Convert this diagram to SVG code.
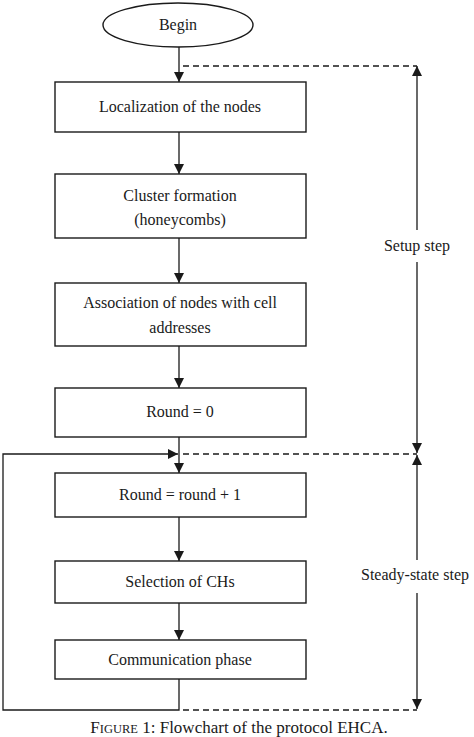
<svg xmlns="http://www.w3.org/2000/svg" width="474" height="737" viewBox="0 0 474 737">
<defs>
<marker id="ah" viewBox="0 0 10 10" refX="10" refY="5" markerWidth="10" markerHeight="10" markerUnits="userSpaceOnUse" orient="auto-start-reverse">
<path d="M0,0 L10,5 L0,10 Z" fill="#1a1a1a"/>
</marker>
</defs>
<style>
.box{fill:#fff;stroke:#1a1a1a;stroke-width:1.4}
.ln{fill:none;stroke:#1a1a1a;stroke-width:1.3}
.ds{fill:none;stroke:#1a1a1a;stroke-width:1.3;stroke-dasharray:6 4}
.t{font-family:"Liberation Serif","Times New Roman",serif;font-size:16px;fill:#1a1a1a;text-anchor:middle}
</style>
<rect width="474" height="737" fill="#fff"/>
<g id="begin"><ellipse class="box" cx="178" cy="25" rx="75" ry="22"/><text class="t" x="178" y="30">Begin</text></g>
<g id="n1"><rect class="box" x="55" y="82" width="251" height="50"/><text class="t" x="180" y="112">Localization of the nodes</text></g>
<g id="n2"><rect class="box" x="55" y="174" width="251" height="64"/><text class="t" x="180" y="201">Cluster formation</text><text class="t" x="180" y="225">(honeycombs)</text></g>
<g id="n3"><rect class="box" x="55" y="283" width="251" height="63"/><text class="t" x="180" y="308">Association of nodes with cell</text><text class="t" x="180" y="333">addresses</text></g>
<g id="n4"><rect class="box" x="55" y="388" width="251" height="49"/><text class="t" x="180" y="417">Round = 0</text></g>
<g id="n5"><rect class="box" x="55" y="473" width="251" height="44"/><text class="t" x="180" y="500">Round = round + 1</text></g>
<g id="n6"><rect class="box" x="55" y="561" width="251" height="42"/><text class="t" x="180" y="587">Selection of CHs</text></g>
<g id="n7"><rect class="box" x="55" y="640" width="251" height="39"/><text class="t" x="180" y="665">Communication phase</text></g>
<g id="connectors">
<line class="ln" x1="179" y1="47" x2="179" y2="82" marker-end="url(#ah)"/>
<line class="ln" x1="179" y1="132" x2="179" y2="174" marker-end="url(#ah)"/>
<line class="ln" x1="179" y1="238" x2="179" y2="283" marker-end="url(#ah)"/>
<line class="ln" x1="179" y1="346" x2="179" y2="388" marker-end="url(#ah)"/>
<line class="ln" x1="179" y1="437" x2="179" y2="473" marker-end="url(#ah)"/>
<line class="ln" x1="179" y1="517" x2="179" y2="561" marker-end="url(#ah)"/>
<line class="ln" x1="179" y1="603" x2="179" y2="640" marker-end="url(#ah)"/>
<polyline class="ln" points="179,679 179,710 3,710 3,454 178,454" marker-end="url(#ah)"/>
<line class="ds" x1="183" y1="66" x2="417" y2="66"/>
<line class="ds" x1="183" y1="454" x2="417" y2="454"/>
<line class="ds" x1="183" y1="710" x2="417" y2="710"/>
<line class="ln" x1="417" y1="230" x2="417" y2="66" marker-end="url(#ah)"/>
<line class="ln" x1="417" y1="262" x2="417" y2="453" marker-end="url(#ah)"/>
<line class="ln" x1="417" y1="560" x2="417" y2="455" marker-end="url(#ah)"/>
<line class="ln" x1="417" y1="593" x2="417" y2="709" marker-end="url(#ah)"/>
</g>
<text class="t" x="417" y="251">Setup step</text>
<text class="t" x="415" y="580">Steady-state step</text>
<text class="t" x="239" y="733" style="font-size:17px">F<tspan style="font-size:12.5px">IGURE</tspan> 1: Flowchart of the protocol EHCA.</text>
</svg>
